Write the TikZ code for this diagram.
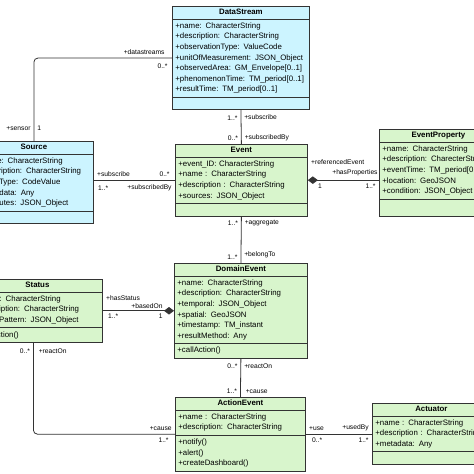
\documentclass[tikz,border=0pt]{standalone}
\usepackage{fontspec}
\setsansfont{Liberation Sans}
\usetikzlibrary{arrows.meta, positioning, shapes.multipart}

\definecolor{streamblue}{RGB}{204,244,255}
\definecolor{eventgreen}{RGB}{216,245,204}
\definecolor{umlline}{RGB}{51,51,51}

\newcommand{\clsfont}{\sffamily\fontsize{7.85}{10.6}\selectfont}
\newcommand{\rolefont}{\sffamily\fontsize{6.7}{7.5}\selectfont}
\newcommand{\titlestrut}{\rule[-2pt]{0pt}{8.5pt}}
\newcommand{\clstitle}[1]{\titlestrut\hfill\textbf{#1}\hfill\null}
\newcommand{\noops}{\rule{0pt}{8.6pt}}

\tikzset{
  cls/.style    = {draw=umlline, line width=0.8pt, rectangle split, rectangle split parts=3,
                   text width=#1, inner xsep=3pt, inner ysep=1.6pt, anchor=north west,
                   align=left, font=\clsfont},
  stream/.style = {cls=#1, fill=streamblue},
  event/.style  = {cls=#1, fill=eventgreen},
  role/.style   = {font=\rolefont, inner sep=3pt},
  assoc/.style  = {draw=umlline, line width=0.8pt},
  comp/.style   = {assoc, {Diamond[length=10pt, width=7.5pt]}-},
}

\begin{document}
\begin{tikzpicture}[x=1pt, y=-1pt]

\path [use as bounding box, clip] (0,0) rectangle (474,474);

% classes
\node [stream=131] (ds) at (172,6) {\clstitle{DataStream}
  \nodepart{two}\strut+name: CharacterString\\
  +description: CharacterString\\
  +observationType: ValueCode\\
  +unitOfMeasurement: JSON\_Object\\
  +observedArea: GM\_Envelope[0..1]\\
  +phenomenonTime: TM\_period[0..1]\\
  +resultTime: TM\_period[0..1]\strut
  \nodepart{three}\noops};

\node [stream=113] (src) at (-26,141) {\clstitle{Source}
  \nodepart{two}\strut+name: CharacterString\\
  +description: CharacterString\\
  +codeType: CodeValue\\
  +metadata: Any\\
  +attributes: JSON\_Object\strut
  \nodepart{three}\noops};

\node [event=126] (ev) at (175,144) {\clstitle{Event}
  \nodepart{two}\strut+event\_ID: CharacterString\\
  +name : CharacterString\\
  +description : CharacterString\\
  +sources: JSON\_Object\strut
  \nodepart{three}\noops};

\node [event=112] (ep) at (379,129) {\clstitle{EventProperty}
  \nodepart{two}\strut+name: CharacterString\\
  +description: CharecterString\\
  +eventTime: TM\_period[0..1]\\
  +location: GeoJSON\\
  +condition: JSON\_Object\strut
  \nodepart{three}\rule{0pt}{13pt}};

\node [event=124] (st) at (-28,279) {\clstitle{Status}
  \nodepart{two}\strut+name: CharacterString\\
  +description: CharacterString\\
  +eventPattern: JSON\_Object\strut
  \nodepart{three}\strut+callAction()\strut};

\node [event=127] (de) at (174,263) {\clstitle{DomainEvent}
  \nodepart{two}\strut+name: CharacterString\\
  +description: CharacterString\\
  +temporal: JSON\_Object\\
  +spatial: GeoJSON\\
  +timestamp: TM\_instant\\
  +resultMethod: Any\strut
  \nodepart{three}\strut+callAction()\strut};

\node [event=124] (ae) at (175,397) {\clstitle{ActionEvent}
  \nodepart{two}\strut+name : CharacterString\\
  +description: CharacterString\strut
  \nodepart{three}\strut+notify()\\
  +alert()\\
  +createDashboard()\strut};

\node [event=112] (act) at (372,403) {\clstitle{Actuator}
  \nodepart{two}\strut+name : CharacterString\\
  +description : CharacterString\\
  +metadata: Any\strut
  \nodepart{three}\noops};

% associations
\path [assoc, rounded corners=4pt] (ds.west) -| (src.north)
  node [role, at start, above left,  xshift=-4pt            ] (ds1) {+datastreams}
  node [role, at start, below left,  xshift=-1pt, yshift=-2pt] (ds2) {0..*}
  node [role, at end,   above left,  yshift=7pt             ] (src1) {+sensor}
  node [role, at end,   above right, yshift=7pt             ] (src2) {1};

\path [assoc] (ev.west -| src.east) -- (ev.west)
  node [role, at start, above right                         ] (src3) {+subscribe}
  node [role, at start, below right, xshift=1pt, yshift=-2pt] (src4) {1..*}
  node [role, at end,   above left,  xshift=-2pt            ] (ev1) {0..*}
  node [role, at end,   below left,  yshift=-1pt            ] (ev2) {+subscribedBy};

\path [assoc] (ds.south) -- (ev.north)
  node [role, at start, below left,  yshift=-2pt            ] (ds3) {1..*}
  node [role, at start, below right, yshift=-1pt            ] (ds4) {+subscribe}
  node [role, at end,   above left                          ] (ev3) {0..*}
  node [role, at end,   above right                         ] (ev4) {+subscribedBy};

\path [comp] (ev.east) -- (ev.east -| ep.west)
  node [role, at start, above right, yshift=12pt            ] (ev5) {+referencedEvent}
  node [role, at start, below right, xshift=7pt             ] (ev6) {1}
  node [role, at end,   above left,  xshift=2pt, yshift=1pt ] (ep1) {+hasProperties}
  node [role, at end,   below left                          ] (ep2) {1..*};

\path [assoc] (ev.south) -- (de.north)
  node [role, at start, below left,  yshift=-1pt            ] (ev7) {1..*}
  node [role, at start, below right                         ] (ev8) {+aggregate}
  node [role, at end,   above left                          ] (de1) {1..*}
  node [role, at end,   above right, yshift=2pt             ] (de2) {+belongTo};

\path [comp] (de.west) -- (de.west -| st.east)
  node [role, at start, above left,  xshift=-8pt, yshift=-1pt] (de3) {+basedOn}
  node [role, at start, below left,  xshift=-8pt            ] (de4) {1}
  node [role, at end,   above right, yshift=7pt             ] (st1) {+hasStatus}
  node [role, at end,   below right, xshift=2pt             ] (st2) {1..*};

\path [assoc] (de.south) -- (ae.north)
  node [role, at start, below left,  yshift=-2pt            ] (de5) {0..*}
  node [role, at start, below right, yshift=-2pt            ] (de6) {+reactOn}
  node [role, at end,   above left                          ] (ae1) {1..*}
  node [role, at end,   above right, xshift=2pt             ] (ae2) {+cause};

\path [assoc, rounded corners=4pt] ([xshift=-4pt]st.south) |- (ae.west)
  node [role, at start, below left,  yshift=-3pt            ] (st3) {0..*}
  node [role, at start, below right, xshift=2pt, yshift=-3pt] (st4) {+reactOn}
  node [role, at end,   above left                          ] (ae3) {+cause}
  node [role, at end,   below left,  xshift=-3pt            ] (ae4) {1..*};

\path [assoc] (ae.east) -- (ae.east -| act.west)
  node [role, at start, above right                         ] (ae5) {+use}
  node [role, at start, below right, xshift=3pt             ] (ae6) {0..*}
  node [role, at end,   above left                          ] (act1) {+usedBy}
  node [role, at end,   below left                          ] (act2) {1..*};

\end{tikzpicture}
\end{document}
